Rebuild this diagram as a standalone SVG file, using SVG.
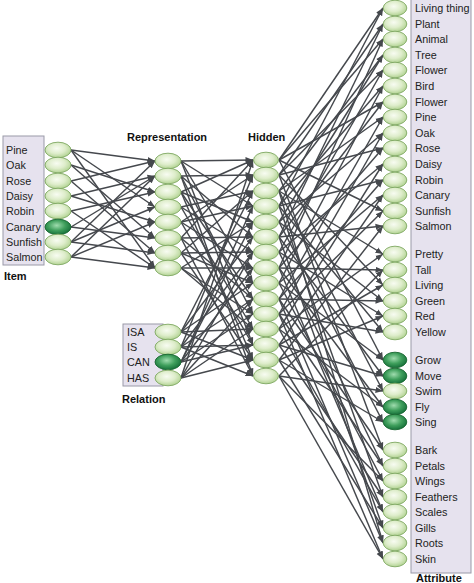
<svg xmlns="http://www.w3.org/2000/svg" width="474" height="583" viewBox="0 0 474 583">
<defs>
<radialGradient id="lg" cx="0.45" cy="0.4" r="0.6"><stop offset="0" stop-color="#f8fcf2"/><stop offset="0.55" stop-color="#deedcb"/><stop offset="1" stop-color="#b2d393"/></radialGradient>
<radialGradient id="dg" cx="0.45" cy="0.4" r="0.6"><stop offset="0" stop-color="#9fdcae"/><stop offset="0.55" stop-color="#3f9f5c"/><stop offset="1" stop-color="#17703a"/></radialGradient>
<marker id="a" viewBox="0 0 10 10" refX="10" refY="5" markerWidth="7.5" markerHeight="7.5" markerUnits="userSpaceOnUse" orient="auto"><path d="M0,1 L10,5 L0,9 z" fill="#45484d"/></marker>
</defs>
<style>
.n{fill:url(#lg);stroke:#7fa862;stroke-width:0.9}
.d{fill:url(#dg);stroke:#176630;stroke-width:0.9}
.box{fill:#e6e2ee;stroke:#9a9aa8;stroke-width:1}
.t{font-family:"Liberation Sans",Arial,sans-serif;font-size:10.8px;fill:#222222}
.h{font-family:"Liberation Sans",Arial,sans-serif;font-size:11px;font-weight:bold;fill:#111111}
.c line{stroke:#45484d;stroke-width:1.45;marker-end:url(#a)}
</style>
<rect width="474" height="583" fill="#ffffff"/>

<g id="connectors" class="c">
<line x1="71" y1="150" x2="155" y2="161"/>
<line x1="71" y1="150" x2="155" y2="207"/>
<line x1="71" y1="150" x2="155" y2="268"/>
<line x1="71" y1="165" x2="155" y2="192"/>
<line x1="71" y1="165" x2="155" y2="238"/>
<line x1="71" y1="181" x2="155" y2="161"/>
<line x1="71" y1="181" x2="155" y2="253"/>
<line x1="71" y1="196" x2="155" y2="176"/>
<line x1="71" y1="196" x2="155" y2="222"/>
<line x1="71" y1="211" x2="155" y2="192"/>
<line x1="71" y1="211" x2="155" y2="268"/>
<line x1="71" y1="227" x2="155" y2="238"/>
<line x1="71" y1="227" x2="155" y2="176"/>
<line x1="71" y1="242" x2="155" y2="207"/>
<line x1="71" y1="242" x2="155" y2="253"/>
<line x1="71" y1="242" x2="155" y2="161"/>
<line x1="71" y1="257" x2="155" y2="222"/>
<line x1="71" y1="257" x2="155" y2="268"/>
<line x1="71" y1="257" x2="155" y2="176"/>

<line x1="181" y1="161" x2="253" y2="160"/>
<line x1="181" y1="161" x2="253" y2="206"/>
<line x1="181" y1="161" x2="253" y2="283"/>
<line x1="181" y1="161" x2="253" y2="345"/>
<line x1="181" y1="176" x2="253" y2="175"/>
<line x1="181" y1="176" x2="253" y2="237"/>
<line x1="181" y1="176" x2="253" y2="314"/>
<line x1="181" y1="176" x2="253" y2="376"/>
<line x1="181" y1="192" x2="253" y2="160"/>
<line x1="181" y1="192" x2="253" y2="222"/>
<line x1="181" y1="192" x2="253" y2="299"/>
<line x1="181" y1="192" x2="253" y2="360"/>
<line x1="181" y1="207" x2="253" y2="191"/>
<line x1="181" y1="207" x2="253" y2="252"/>
<line x1="181" y1="207" x2="253" y2="329"/>
<line x1="181" y1="222" x2="253" y2="175"/>
<line x1="181" y1="222" x2="253" y2="268"/>
<line x1="181" y1="222" x2="253" y2="345"/>
<line x1="181" y1="222" x2="253" y2="206"/>
<line x1="181" y1="238" x2="253" y2="237"/>
<line x1="181" y1="238" x2="253" y2="299"/>
<line x1="181" y1="238" x2="253" y2="376"/>
<line x1="181" y1="238" x2="253" y2="160"/>
<line x1="181" y1="253" x2="253" y2="191"/>
<line x1="181" y1="253" x2="253" y2="283"/>
<line x1="181" y1="253" x2="253" y2="360"/>
<line x1="181" y1="253" x2="253" y2="252"/>
<line x1="181" y1="268" x2="253" y2="222"/>
<line x1="181" y1="268" x2="253" y2="314"/>
<line x1="181" y1="268" x2="253" y2="329"/>
<line x1="181" y1="268" x2="253" y2="268"/>

<line x1="181" y1="332" x2="253" y2="191"/>
<line x1="181" y1="332" x2="253" y2="237"/>
<line x1="181" y1="332" x2="253" y2="283"/>
<line x1="181" y1="332" x2="253" y2="329"/>
<line x1="181" y1="332" x2="253" y2="360"/>
<line x1="181" y1="347" x2="253" y2="175"/>
<line x1="181" y1="347" x2="253" y2="252"/>
<line x1="181" y1="347" x2="253" y2="299"/>
<line x1="181" y1="347" x2="253" y2="345"/>
<line x1="181" y1="347" x2="253" y2="376"/>
<line x1="181" y1="362" x2="253" y2="206"/>
<line x1="181" y1="362" x2="253" y2="222"/>
<line x1="181" y1="362" x2="253" y2="268"/>
<line x1="181" y1="362" x2="253" y2="314"/>
<line x1="181" y1="362" x2="253" y2="345"/>
<line x1="181" y1="378" x2="253" y2="160"/>
<line x1="181" y1="378" x2="253" y2="252"/>
<line x1="181" y1="378" x2="253" y2="299"/>
<line x1="181" y1="378" x2="253" y2="329"/>
<line x1="181" y1="378" x2="253" y2="360"/>

<line x1="279" y1="160" x2="383" y2="8"/>
<line x1="279" y1="206" x2="383" y2="8"/>
<line x1="279" y1="175" x2="383" y2="24"/>
<line x1="279" y1="237" x2="383" y2="24"/>
<line x1="279" y1="160" x2="383" y2="39"/>
<line x1="279" y1="268" x2="383" y2="39"/>
<line x1="279" y1="191" x2="383" y2="55"/>
<line x1="279" y1="222" x2="383" y2="55"/>
<line x1="279" y1="252" x2="383" y2="70"/>
<line x1="279" y1="175" x2="383" y2="70"/>
<line x1="279" y1="206" x2="383" y2="86"/>
<line x1="279" y1="283" x2="383" y2="86"/>
<line x1="279" y1="237" x2="383" y2="102"/>
<line x1="279" y1="160" x2="383" y2="102"/>
<line x1="279" y1="191" x2="383" y2="117"/>
<line x1="279" y1="299" x2="383" y2="117"/>
<line x1="279" y1="222" x2="383" y2="133"/>
<line x1="279" y1="314" x2="383" y2="133"/>
<line x1="279" y1="268" x2="383" y2="148"/>
<line x1="279" y1="175" x2="383" y2="148"/>
<line x1="279" y1="252" x2="383" y2="164"/>
<line x1="279" y1="329" x2="383" y2="164"/>
<line x1="279" y1="206" x2="383" y2="180"/>
<line x1="279" y1="299" x2="383" y2="180"/>
<line x1="279" y1="283" x2="383" y2="195"/>
<line x1="279" y1="345" x2="383" y2="195"/>
<line x1="279" y1="160" x2="383" y2="211"/>
<line x1="279" y1="314" x2="383" y2="211"/>
<line x1="279" y1="237" x2="383" y2="226"/>
<line x1="279" y1="360" x2="383" y2="226"/>
<line x1="279" y1="191" x2="383" y2="254"/>
<line x1="279" y1="329" x2="383" y2="254"/>
<line x1="279" y1="268" x2="383" y2="270"/>
<line x1="279" y1="376" x2="383" y2="270"/>
<line x1="279" y1="175" x2="383" y2="285"/>
<line x1="279" y1="345" x2="383" y2="285"/>
<line x1="279" y1="222" x2="383" y2="301"/>
<line x1="279" y1="299" x2="383" y2="301"/>
<line x1="279" y1="252" x2="383" y2="316"/>
<line x1="279" y1="360" x2="383" y2="316"/>
<line x1="279" y1="206" x2="383" y2="332"/>
<line x1="279" y1="314" x2="383" y2="332"/>
<line x1="279" y1="160" x2="383" y2="360"/>
<line x1="279" y1="283" x2="383" y2="360"/>
<line x1="279" y1="237" x2="383" y2="376"/>
<line x1="279" y1="345" x2="383" y2="376"/>
<line x1="279" y1="191" x2="383" y2="391"/>
<line x1="279" y1="376" x2="383" y2="391"/>
<line x1="279" y1="268" x2="383" y2="407"/>
<line x1="279" y1="329" x2="383" y2="407"/>
<line x1="279" y1="222" x2="383" y2="422"/>
<line x1="279" y1="360" x2="383" y2="422"/>
<line x1="279" y1="175" x2="383" y2="450"/>
<line x1="279" y1="299" x2="383" y2="450"/>
<line x1="279" y1="252" x2="383" y2="466"/>
<line x1="279" y1="314" x2="383" y2="466"/>
<line x1="279" y1="283" x2="383" y2="481"/>
<line x1="279" y1="376" x2="383" y2="481"/>
<line x1="279" y1="206" x2="383" y2="497"/>
<line x1="279" y1="345" x2="383" y2="497"/>
<line x1="279" y1="329" x2="383" y2="512"/>
<line x1="279" y1="268" x2="383" y2="512"/>
<line x1="279" y1="360" x2="383" y2="528"/>
<line x1="279" y1="237" x2="383" y2="528"/>
<line x1="279" y1="299" x2="383" y2="543"/>
<line x1="279" y1="191" x2="383" y2="543"/>
<line x1="279" y1="376" x2="383" y2="559"/>
<line x1="279" y1="314" x2="383" y2="559"/>
</g>

<g id="item">
<rect class="box" x="3" y="136" width="41" height="129"/>
<text class="t" x="6" y="154">Pine</text>
<text class="t" x="6" y="169">Oak</text>
<text class="t" x="6" y="185">Rose</text>
<text class="t" x="6" y="200">Daisy</text>
<text class="t" x="6" y="215">Robin</text>
<text class="t" x="6" y="231">Canary</text>
<text class="t" x="6" y="246">Sunfish</text>
<text class="t" x="6" y="261">Salmon</text>
<ellipse class="n" cx="58" cy="150" rx="13" ry="7.8"/>
<ellipse class="n" cx="58" cy="165" rx="13" ry="7.8"/>
<ellipse class="n" cx="58" cy="181" rx="13" ry="7.8"/>
<ellipse class="n" cx="58" cy="196" rx="13" ry="7.8"/>
<ellipse class="n" cx="58" cy="211" rx="13" ry="7.8"/>
<ellipse class="d" cx="58" cy="227" rx="13" ry="7.8"/>
<ellipse class="n" cx="58" cy="242" rx="13" ry="7.8"/>
<ellipse class="n" cx="58" cy="257" rx="13" ry="7.8"/>
<text class="h" x="4" y="280">Item</text>
</g>

<g id="representation">
<text class="h" x="127" y="141">Representation</text>
<ellipse class="n" cx="168" cy="161" rx="13" ry="7.8"/>
<ellipse class="n" cx="168" cy="176" rx="13" ry="7.8"/>
<ellipse class="n" cx="168" cy="192" rx="13" ry="7.8"/>
<ellipse class="n" cx="168" cy="207" rx="13" ry="7.8"/>
<ellipse class="n" cx="168" cy="222" rx="13" ry="7.8"/>
<ellipse class="n" cx="168" cy="238" rx="13" ry="7.8"/>
<ellipse class="n" cx="168" cy="253" rx="13" ry="7.8"/>
<ellipse class="n" cx="168" cy="268" rx="13" ry="7.8"/>
</g>

<g id="relation">
<rect class="box" x="123" y="324" width="40" height="62"/>
<text class="t" x="127" y="336">ISA</text>
<text class="t" x="127" y="351">IS</text>
<text class="t" x="127" y="366">CAN</text>
<text class="t" x="127" y="382">HAS</text>
<ellipse class="n" cx="168" cy="332" rx="13" ry="7.8"/>
<ellipse class="n" cx="168" cy="347" rx="13" ry="7.8"/>
<ellipse class="d" cx="168" cy="362" rx="13" ry="7.8"/>
<ellipse class="n" cx="168" cy="378" rx="13" ry="7.8"/>
<text class="h" x="122" y="403">Relation</text>
</g>

<g id="hidden">
<text class="h" x="248" y="141">Hidden</text>
<ellipse class="n" cx="266" cy="160" rx="12.5" ry="7.8"/>
<ellipse class="n" cx="266" cy="175" rx="12.5" ry="7.8"/>
<ellipse class="n" cx="266" cy="191" rx="12.5" ry="7.8"/>
<ellipse class="n" cx="266" cy="206" rx="12.5" ry="7.8"/>
<ellipse class="n" cx="266" cy="222" rx="12.5" ry="7.8"/>
<ellipse class="n" cx="266" cy="237" rx="12.5" ry="7.8"/>
<ellipse class="n" cx="266" cy="252" rx="12.5" ry="7.8"/>
<ellipse class="n" cx="266" cy="268" rx="12.5" ry="7.8"/>
<ellipse class="n" cx="266" cy="283" rx="12.5" ry="7.8"/>
<ellipse class="n" cx="266" cy="299" rx="12.5" ry="7.8"/>
<ellipse class="n" cx="266" cy="314" rx="12.5" ry="7.8"/>
<ellipse class="n" cx="266" cy="329" rx="12.5" ry="7.8"/>
<ellipse class="n" cx="266" cy="345" rx="12.5" ry="7.8"/>
<ellipse class="n" cx="266" cy="360" rx="12.5" ry="7.8"/>
<ellipse class="n" cx="266" cy="376" rx="12.5" ry="7.8"/>
</g>

<g id="attribute">
<rect class="box" x="411" y="-3" width="60" height="576"/>
<ellipse class="n" cx="395" cy="8" rx="11.8" ry="7.8"/>
<ellipse class="n" cx="395" cy="24" rx="11.8" ry="7.8"/>
<ellipse class="n" cx="395" cy="39" rx="11.8" ry="7.8"/>
<ellipse class="n" cx="395" cy="55" rx="11.8" ry="7.8"/>
<ellipse class="n" cx="395" cy="70" rx="11.8" ry="7.8"/>
<ellipse class="n" cx="395" cy="86" rx="11.8" ry="7.8"/>
<ellipse class="n" cx="395" cy="102" rx="11.8" ry="7.8"/>
<ellipse class="n" cx="395" cy="117" rx="11.8" ry="7.8"/>
<ellipse class="n" cx="395" cy="133" rx="11.8" ry="7.8"/>
<ellipse class="n" cx="395" cy="148" rx="11.8" ry="7.8"/>
<ellipse class="n" cx="395" cy="164" rx="11.8" ry="7.8"/>
<ellipse class="n" cx="395" cy="180" rx="11.8" ry="7.8"/>
<ellipse class="n" cx="395" cy="195" rx="11.8" ry="7.8"/>
<ellipse class="n" cx="395" cy="211" rx="11.8" ry="7.8"/>
<ellipse class="n" cx="395" cy="226" rx="11.8" ry="7.8"/>
<ellipse class="n" cx="395" cy="254" rx="11.8" ry="7.8"/>
<ellipse class="n" cx="395" cy="270" rx="11.8" ry="7.8"/>
<ellipse class="n" cx="395" cy="285" rx="11.8" ry="7.8"/>
<ellipse class="n" cx="395" cy="301" rx="11.8" ry="7.8"/>
<ellipse class="n" cx="395" cy="316" rx="11.8" ry="7.8"/>
<ellipse class="n" cx="395" cy="332" rx="11.8" ry="7.8"/>
<ellipse class="d" cx="395" cy="360" rx="11.8" ry="7.8"/>
<ellipse class="d" cx="395" cy="376" rx="11.8" ry="7.8"/>
<ellipse class="n" cx="395" cy="391" rx="11.8" ry="7.8"/>
<ellipse class="d" cx="395" cy="407" rx="11.8" ry="7.8"/>
<ellipse class="d" cx="395" cy="422" rx="11.8" ry="7.8"/>
<ellipse class="n" cx="395" cy="450" rx="11.8" ry="7.8"/>
<ellipse class="n" cx="395" cy="466" rx="11.8" ry="7.8"/>
<ellipse class="n" cx="395" cy="481" rx="11.8" ry="7.8"/>
<ellipse class="n" cx="395" cy="497" rx="11.8" ry="7.8"/>
<ellipse class="n" cx="395" cy="512" rx="11.8" ry="7.8"/>
<ellipse class="n" cx="395" cy="528" rx="11.8" ry="7.8"/>
<ellipse class="n" cx="395" cy="543" rx="11.8" ry="7.8"/>
<ellipse class="n" cx="395" cy="559" rx="11.8" ry="7.8"/>
<text class="t" x="415" y="12">Living thing</text>
<text class="t" x="415" y="28">Plant</text>
<text class="t" x="415" y="43">Animal</text>
<text class="t" x="415" y="59">Tree</text>
<text class="t" x="415" y="74">Flower</text>
<text class="t" x="415" y="90">Bird</text>
<text class="t" x="415" y="106">Flower</text>
<text class="t" x="415" y="121">Pine</text>
<text class="t" x="415" y="137">Oak</text>
<text class="t" x="415" y="152">Rose</text>
<text class="t" x="415" y="168">Daisy</text>
<text class="t" x="415" y="184">Robin</text>
<text class="t" x="415" y="199">Canary</text>
<text class="t" x="415" y="215">Sunfish</text>
<text class="t" x="415" y="230">Salmon</text>
<text class="t" x="415" y="258">Pretty</text>
<text class="t" x="415" y="274">Tall</text>
<text class="t" x="415" y="289">Living</text>
<text class="t" x="415" y="305">Green</text>
<text class="t" x="415" y="320">Red</text>
<text class="t" x="415" y="336">Yellow</text>
<text class="t" x="415" y="364">Grow</text>
<text class="t" x="415" y="380">Move</text>
<text class="t" x="415" y="395">Swim</text>
<text class="t" x="415" y="411">Fly</text>
<text class="t" x="415" y="426">Sing</text>
<text class="t" x="415" y="454">Bark</text>
<text class="t" x="415" y="470">Petals</text>
<text class="t" x="415" y="485">Wings</text>
<text class="t" x="415" y="501">Feathers</text>
<text class="t" x="415" y="516">Scales</text>
<text class="t" x="415" y="532">Gills</text>
<text class="t" x="415" y="547">Roots</text>
<text class="t" x="415" y="563">Skin</text>
<text class="h" x="416" y="582">Attribute</text>
</g>
</svg>
